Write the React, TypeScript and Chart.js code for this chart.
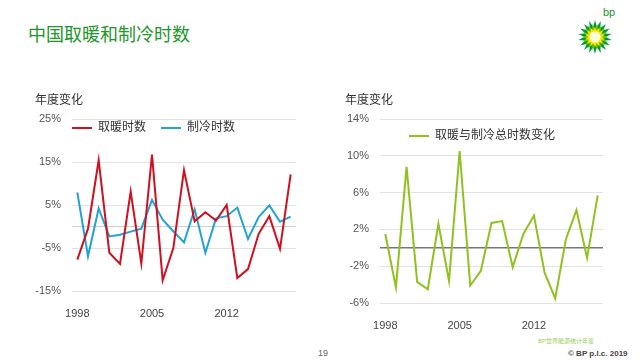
import React, { useEffect, useRef } from "react";
import { Chart, registerables } from "chart.js";

Chart.register(...registerables);

const FONT = '"Liberation Sans", "Noto Sans CJK SC", sans-serif';

// ---- data ----
const years = ["1998", "1999", "2000", "2001", "2002", "2003", "2004", "2005", "2006", "2007", "2008", "2009", "2010", "2011", "2012", "2013", "2014", "2015", "2016", "2017", "2018"];
const shownYears = ["1998", "2005", "2012"];
const heatingChange = [-7.7, -0.5, 15.4, -6.1, -8.7, 8.1, -8.6, 16.7, -12.5, -5.0, 13.1, 1.2, 3.3, 1.4, 5.0, -12.0, -9.9, -1.7, 2.4, -5.2, 12.1];
const coolingChange = [7.9, -6.9, 4.2, -2.3, -1.9, -1.2, -0.5, 6.2, 1.6, -1.1, -3.7, 4.0, -6.1, 1.9, 2.4, 4.4, -2.9, 2.2, 4.9, 1.1, 2.3];
const totalChange = [1.5, -4.3, 8.8, -3.7, -4.5, 2.6, -3.6, 10.5, -4.1, -2.5, 2.7, 2.9, -2.1, 1.5, 3.5, -2.7, -5.5, 0.9, 4.1, -1.1, 5.7];
const leftRange = { min: -15, max: 25, step: 10 };
const rightRange = { min: -6, max: 14, step: 4 };

const RED = "#cf1020";
const BLUE = "#22a3d3";
const GREEN = "#8fc21f";
const TITLE_GREEN = "#22962a";

const zeroLinePlugin = {
  id: "zeroLine",
  beforeDatasetsDraw(chart: any, _args: any, opts: any) {
    const y = chart.scales.y.getPixelForValue(0);
    const { left, right } = chart.chartArea;
    const ctx = chart.ctx;
    ctx.save();
    ctx.strokeStyle = opts.color;
    ctx.lineWidth = opts.width;
    ctx.beginPath();
    ctx.moveTo(left, y);
    ctx.lineTo(right, y);
    ctx.stroke();
    ctx.restore();
  },
};

const legendInsidePlugin = {
  id: "legendInside",
  afterLayout(chart: any, _args: any, opts: any) {
    const lg = chart.legend;
    if (!lg) return;
    const ca = chart.chartArea;
    const pad = lg.options.labels.padding;
    const fs = lg.options.labels.font.size;
    const w = lg.right - lg.left;
    const h = lg.bottom - lg.top;
    lg.left = ca.left + opts.x - pad;
    lg.right = lg.left + w;
    lg.top = ca.top + opts.y - pad - fs / 2;
    lg.bottom = lg.top + h;
  },
};

function makeConfig(datasets: any[], range: any, yWidth: number, xHeight: number, padRight: number, legendPos: { x: number; y: number }, zero: { color: string; width: number }, xPad: number): any {
  return {
    type: "line",
    data: {
      labels: years,
      datasets: datasets.map((d) => ({
        label: d.label,
        data: d.data,
        borderColor: d.color,
        backgroundColor: d.color,
        borderWidth: 2,
        pointRadius: 0,
        tension: 0,
      })),
    },
    options: {
      animation: false,
      responsive: false,
      maintainAspectRatio: false,
      layout: { padding: { top: 0, right: padRight, left: 0, bottom: 0 } },
      plugins: {
        legend: {
          position: "top",
          align: "start",
          labels: {
            usePointStyle: true,
            pointStyle: "line",
            pointStyleWidth: 20,
            boxWidth: 20,
            font: { size: 12, family: FONT },
            color: "#333",
            padding: 15,
          },
        },
        tooltip: { enabled: false },
        zeroLine: zero,
        legendInside: legendPos,
      },
      scales: {
        x: {
          offset: true,
          grid: { display: false },
          border: { display: false },
          ticks: {
            autoSkip: false,
            maxRotation: 0,
            padding: xPad,
            color: "#444",
            font: { size: 11, family: FONT },
            callback: (_v: any, i: number) => (shownYears.includes(years[i]) ? years[i] : null),
          },
          afterFit: (s: any) => {
            s.height = xHeight;
          },
        },
        y: {
          min: range.min,
          max: range.max,
          ticks: {
            stepSize: range.step,
            padding: 11,
            color: "#555",
            font: { size: 11, family: FONT },
            callback: (v: any) => v + "%",
          },
          grid: { color: "#e2e2e2", drawTicks: false, lineWidth: 1 },
          border: { display: false },
          afterFit: (s: any) => {
            s.width = yWidth;
          },
        },
      },
    },
    plugins: [zeroLinePlugin, legendInsidePlugin],
  };
}

function ChartCanvas({ config, left, top, width, height }: any) {
  const ref = useRef<HTMLCanvasElement | null>(null);
  useEffect(() => {
    if (!ref.current) return;
    const chart = new Chart(ref.current, config());
    return () => chart.destroy();
  }, []);
  return <canvas ref={ref} width={width} height={height} style={{ position: "absolute", left, top, width, height }} />;
}

function starPoints(cx: number, cy: number, ro: number, ri: number, n: number, rot: number) {
  const pts: string[] = [];
  for (let i = 0; i < n * 2; i++) {
    const r = i % 2 === 0 ? ro : ri;
    const a = rot + (Math.PI * i) / n;
    pts.push(`${(cx + r * Math.sin(a)).toFixed(2)},${(cy - r * Math.cos(a)).toFixed(2)}`);
  }
  return pts.join(" ");
}

function Logo() {
  const cx = 20, cy = 20;
  return (
    <svg width={40} height={40} style={{ position: "absolute", left: 575, top: 17 }}>
      <polygon points={starPoints(cx, cy, 17, 10.5, 18, 0)} fill="#009a3e" />
      <polygon points={starPoints(cx, cy, 13.5, 8, 18, Math.PI / 18)} fill="#7cc300" />
      <polygon points={starPoints(cx, cy, 10, 6.5, 14, 0)} fill="#ffe500" />
      <circle cx={cx} cy={cy} r={5.5} fill="#ffffd8" />
    </svg>
  );
}

export default function App() {
  const leftConfig = () =>
    makeConfig(
      [
        { label: "取暖时数", data: heatingChange, color: RED },
        { label: "制冷时数", data: coolingChange, color: BLUE },
      ],
      leftRange, 52, 33, 14, { x: 0, y: 9 }, { color: "#cfcfcf", width: 1 }, 8
    );
  const rightConfig = () =>
    makeConfig(
      [{ label: "取暖与制冷总时数变化", data: totalChange, color: GREEN }],
      rightRange, 50, 34, 12, { x: 29, y: 17 }, { color: "#777", width: 1.5 }, 8
    );
  return (
    <div style={{ position: "fixed", left: 0, top: 0, width: 640, height: 360, background: "#fff", overflow: "hidden", fontFamily: FONT }}>
      <ChartCanvas config={leftConfig} left={20} top={82} width={290} height={242} />
      <ChartCanvas config={rightConfig} left={330} top={82} width={285} height={255} />
      <div style={{ position: "absolute", left: 28, top: 21, fontSize: 18, lineHeight: "24px", color: TITLE_GREEN, fontFamily: '"Noto Sans CJK SC", sans-serif' }}>中国取暖和制冷时数</div>
      <div style={{ position: "absolute", left: 603, top: 5, fontSize: 11, lineHeight: "14px", color: TITLE_GREEN }}>bp</div>
      <Logo />
      <div style={{ position: "absolute", left: 35, top: 92, fontSize: 12, lineHeight: "16px", color: "#333" }}>年度变化</div>
      <div style={{ position: "absolute", left: 345, top: 92, fontSize: 12, lineHeight: "16px", color: "#333" }}>年度变化</div>
      <div style={{ position: "absolute", left: 318, top: 347, fontSize: 9, lineHeight: "12px", color: "#666" }}>19</div>
      <div style={{ position: "absolute", left: 538, top: 337, fontSize: 6, lineHeight: "8px", color: "#9acd5a" }}>BP世界能源统计年鉴</div>
      <div style={{ position: "absolute", left: 568, top: 349, fontSize: 8, lineHeight: "10px", color: "#444", fontWeight: "bold" }}>© BP p.l.c. 2019</div>
    </div>
  );
}
